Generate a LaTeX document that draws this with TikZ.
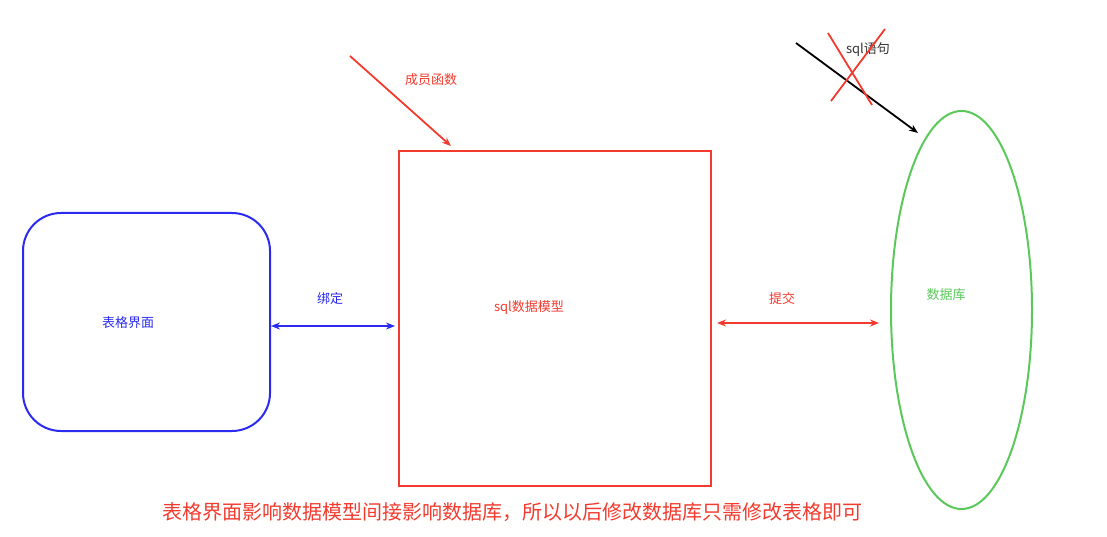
\documentclass[tikz,border=0pt]{standalone}
\usepackage{fontspec}
\newfontfamily\cjk{Noto Sans CJK SC}
\usetikzlibrary{shapes.geometric,arrows.meta}
\definecolor{cblue}{HTML}{2A2AF0}
\definecolor{cred}{HTML}{F23A2E}
\definecolor{cgreen}{HTML}{5AC85A}
\definecolor{cgray}{HTML}{333333}
\tikzset{
  lbl/.style={font=\cjk\fontsize{13}{15}\selectfont, inner sep=0pt},
  arr/.style={line width=1.8pt, -{Stealth[length=9pt,width=7pt]}},
  darr/.style={line width=1.8pt, {Stealth[length=9pt,width=7pt]}-{Stealth[length=9pt,width=7pt]}},
}
\begin{document}
\begin{tikzpicture}[x=1pt,y=-1pt]
\useasboundingbox (0,0) rectangle (1107,537);
% shapes
\node[draw=cblue, line width=2pt, rounded corners=38pt, minimum width=247pt, minimum height=218pt, inner sep=0pt] (ui) at (146.5,322) {};
\node[draw=cred, line width=1.8pt, minimum width=312pt, minimum height=335pt, inner sep=0pt] (model) at (555,318.5) {};
\node[draw=cgreen, line width=2pt, ellipse, minimum width=141pt, minimum height=398pt, inner sep=0pt] (db) at (961.5,310) {};
% labels inside
\node[lbl, text=cblue] (uit) at (128,323) {表格界面};
\node[lbl, text=cred] (mt) at (529,308) {sql数据模型};
\node[lbl, text=cgreen] (dbt) at (946,295) {数据库};
% binding arrow
\coordinate (b1) at (271,326);
\coordinate (b2) at (395,326);
\draw[darr, draw=cblue, fill=cblue] (b1) -- (b2);
\node[lbl, text=cblue] (bt) at (330,299) {绑定};
% submit arrow
\coordinate (s1) at (717,323);
\coordinate (s2) at (879,323);
\draw[darr, draw=cred, fill=cred] (s1) -- (s2);
\node[lbl, text=cred] (st) at (782,299) {提交};
% member function arrow
\coordinate (m1) at (350,56);
\coordinate (m2) at (451,146);
\draw[arr, draw=cred, fill=cred] (m1) -- (m2);
\node[lbl, text=cred] (mft) at (431,80) {成员函数};
% sql statement arrow
\coordinate (q1) at (796,43);
\coordinate (q2) at (918,133);
\draw[arr, draw=black, fill=black] (q1) -- (q2);
\node[lbl, text=cgray] (qt) at (868,50) {sql语句};
% red cross
\coordinate (x1) at (828,33);
\coordinate (x2) at (872,105);
\coordinate (x3) at (885,29);
\coordinate (x4) at (831,101);
\draw[cred, line width=1.8pt] (x1) -- (x2);
\draw[cred, line width=1.8pt] (x3) -- (x4);
% bottom note
\node[font=\cjk\fontsize{20}{24}\selectfont, text=cred, inner sep=0pt] (note) at (512,512) {表格界面影响数据模型间接影响数据库，所以以后修改数据库只需修改表格即可};
\end{tikzpicture}
\end{document}
